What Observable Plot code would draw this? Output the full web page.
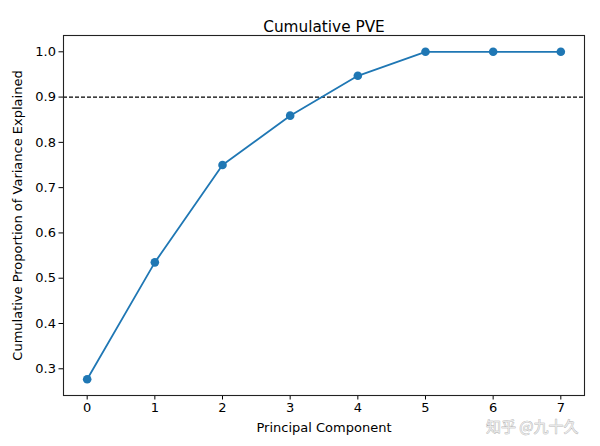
<!DOCTYPE html>
<html>
<head>
<meta charset="utf-8">
<script src="https://cdn.jsdelivr.net/npm/d3@7"></script>
<script src="https://cdn.jsdelivr.net/npm/@observablehq/plot@0.6"></script>
<style>
  html, body { margin: 0; padding: 0; background: #fff; }
  #chart { width: 600px; height: 446px; }
</style>
</head>
<body>
<div id="chart"></div>
<script>
const components = [0, 1, 2, 3, 4, 5, 6, 7];
const cumulativePVE = [0.277, 0.535, 0.750, 0.859, 0.947, 1.0, 1.0, 1.0];
const xTicks = [0, 1, 2, 3, 4, 5, 6, 7];
const yTicks = [0.3, 0.4, 0.5, 0.6, 0.7, 0.8, 0.9, 1.0];
const threshold = [0.9];
const titleText = "Cumulative PVE";
const xLabel = "Principal Component";
const yLabel = "Cumulative Proportion of Variance Explained";
const watermark = "知乎 @九十久";

const data = components.map((c, i) => ({pc: c, pve: cumulativePVE[i]}));
const blue = "#1f77b4";
const font = "DejaVu Sans, sans-serif";

const chart = Plot.plot({
  width: 600,
  height: 446,
  marginLeft: 63,
  marginRight: 16,
  marginTop: 35,
  marginBottom: 51,
  style: {fontFamily: font, fontSize: "13px", color: "#000", background: "#fff"},
  x: {domain: [-0.35, 7.35], ticks: xTicks, tickFormat: d3.format("d"), label: xLabel,
      labelAnchor: "center", labelArrow: "none", labelOffset: 36, tickSize: 4.5, tickPadding: 3},
  y: {domain: [0.241, 1.036], ticks: yTicks, tickFormat: d3.format(".1f"), label: yLabel,
      labelAnchor: "center", labelArrow: "none", labelOffset: 51, tickSize: 4.5, tickPadding: 3},
  marks: [
    Plot.ruleY(threshold, {stroke: "#000", strokeWidth: 1.1, strokeDasharray: "4,2"}),
    Plot.line(data, {x: "pc", y: "pve", stroke: blue, strokeWidth: 1.8}),
    Plot.dot(data, {x: "pc", y: "pve", r: 4.3, fill: blue, stroke: "none"}),
    Plot.frame({stroke: "#222", strokeWidth: 1.1}),
    Plot.text([titleText], {frameAnchor: "top", dy: -14, text: d => d, fontSize: 15.3, fill: "#000"}),
    Plot.text([watermark], {frameAnchor: "bottom-right", dx: -6, dy: 36, text: d => d,
      fontSize: 15, fill: "#e8e8e8", stroke: "#a8a8a8", strokeWidth: 0.6,
      fontFamily: "Noto Sans CJK SC, sans-serif"})
  ]
});
document.getElementById("chart").appendChild(chart);
</script>
</body>
</html>
